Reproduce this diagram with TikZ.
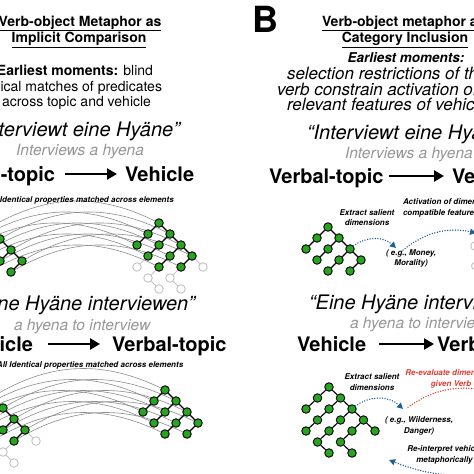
\documentclass[tikz,border=0pt]{standalone}
\usepackage{fontspec}
\setmainfont{TeX Gyre Heros}
\usetikzlibrary{arrows.meta}
\pgfdeclarelayer{bg}
\pgfsetlayers{bg,main}
\definecolor{tgreen}{RGB}{40,165,30}
\definecolor{hgray}{RGB}{195,195,195}
\definecolor{arcgray}{RGB}{140,140,140}
\definecolor{subgray}{RGB}{150,150,150}
\definecolor{dotblue}{RGB}{35,95,145}
\definecolor{dotred}{RGB}{225,60,50}
\newcommand{\fTitle}{\fontsize{14}{16}\selectfont\bfseries}
\newcommand{\fBody}{\fontsize{14}{16}\selectfont}
\newcommand{\fQuote}{\fontsize{20}{24}\selectfont\itshape}
\newcommand{\fSub}{\fontsize{15.5}{18}\selectfont\itshape}
\newcommand{\fBig}{\fontsize{20}{24}\selectfont\bfseries}
\newcommand{\fTiny}{\fontsize{8}{10.5}\selectfont\bfseries\itshape}
\newcommand{\fItal}{\fontsize{17}{16}\selectfont\itshape}
\newcommand{\fEarly}{\fontsize{13.5}{16}\selectfont\bfseries\itshape}
\tikzset{
  gnode/.style={circle,draw=black,line width=0.9pt,fill=tgreen,minimum size=8.5pt,inner sep=0pt},
  hnode/.style={circle,draw=hgray,line width=0.9pt,fill=white,minimum size=8.5pt,inner sep=0pt},
  tedge/.style={line width=1.1pt,black},
  hedge/.style={line width=1pt,hgray},
  arcl/.style={line width=0.6pt,arcgray},
  txt/.style={inner sep=0pt,outer sep=0pt},
  bigarr/.style={line width=2.4pt,-{Triangle[length=10pt,width=11pt]}},
  bluedot/.style={dotblue,line width=1.5pt,line cap=round,dash pattern=on 0pt off 2.6pt,-{Triangle[length=6pt,width=6pt]}},
  reddot/.style={dotred,line width=1.5pt,line cap=round,dash pattern=on 0pt off 2.6pt},
}
\newcommand{\greentree}[5]{%
  \foreach \ta/\tb in {0/0,1/0,2/0,0/1,1/1,0/2,2/1,1/2,0/3,2/2,1/3}
    \node[gnode] (#1-\ta-\tb) at ({#2+#4*(\tb-\ta)},{#3+#5*(\ta+\tb)}) {};
  \foreach \pa/\pb in {0-0/1-0,1-0/2-0,0-0/0-1,0-1/1-1,1-1/2-1,0-1/0-2,0-2/1-2,1-2/2-2,0-2/0-3,0-3/1-3}
    \draw[tedge] (#1-\pa) -- (#1-\pb);
}
\newcommand{\extratree}[7]{%
  \foreach \ta/\tb in {3/1,0/4,3/2,2/3,3/3,2/4}
    \node[#6] (#1-\ta-\tb) at ({#2+#4*(\tb-\ta)},{#3+#5*(\ta+\tb)}) {};
  \foreach \pa/\pb in {2-1/3-1,0-3/0-4,2-2/3-2,1-3/2-3,3-2/3-3,2-3/2-4}
    \draw[#7] (#1-\pa) -- (#1-\pb);
}
\begin{document}
\begin{tikzpicture}[x=1pt,y=-1pt]
\useasboundingbox (0,0) rectangle (474,474);
\begin{pgfonlayer}{bg}
\fill[white] (0,0) rectangle (474,474);
\end{pgfonlayer}

% ---------- Panel A (left) ----------
\node[txt,anchor=base,font=\fTitle] (a1) at (80,26) {\underline{Verb-object Metaphor as}};
\node[txt,anchor=base,font=\fTitle] (a2) at (79,42.5) {\underline{Implicit Comparison}};
\node[txt,anchor=base east,font=\fBody] (a3) at (153,75) {\textbf{Earliest moments:} blind};
\node[txt,anchor=base east,font=\fBody] (a4) at (162,91) {identical matches of predicates};
\node[txt,anchor=base east,font=\fBody] (a5) at (151,106.5) {across topic and vehicle};

\node[txt,anchor=base east,font=\fQuote] (a6) at (180,136) {“Interviewt eine Hyäne”};
\node[txt,anchor=base,font=\fSub,text=subgray] (a7) at (80,155.5) {Interviews a hyena};
\node[txt,anchor=base east,font=\fBig] (a8) at (55,181) {Verbal-topic};
\node[txt,anchor=base west,font=\fBig] (a9) at (125,181) {Vehicle};
\draw[bigarr] ([shift={(10,-7)}]a8.base east) -- ([shift={(-8,-7)}]a9.base west);
\node[txt,anchor=base west,font=\fTiny] (a10) at (-12.5,202.5) {All Identical properties matched across elements};

\greentree{L1}{-11}{228}{11}{11}
\greentree{R1}{159}{223}{11}{11}
\extratree{R1}{159}{223}{11}{11}{hnode}{hedge}
\begin{pgfonlayer}{bg}
\foreach \ta/\tb in {0/0,1/0,2/0,0/1,1/1,0/2,2/1,1/2,0/3,2/2,1/3}
  \draw[arcl] (L1-\ta-\tb) to[bend left=28] (R1-\ta-\tb);
\end{pgfonlayer}

\node[txt,anchor=base east,font=\fQuote] (b1) at (195,310) {“Eine Hyäne interviewen”};
\node[txt,anchor=base west,font=\fSub,text=subgray] (b2) at (14,330.5) {a hyena to interview};
\node[txt,anchor=base east,font=\fBig] (b3) at (33,351) {Vehicle};
\node[txt,anchor=base west,font=\fBig] (b4) at (112,351) {Verbal-topic};
\draw[bigarr] ([shift={(15,-7)}]b3.base east) -- ([shift={(-12,-7)}]b4.base west);
\node[txt,anchor=base west,font=\fTiny] (b5) at (-3,367) {All Identical properties matched across elements};

\greentree{L2}{-8}{397}{11}{11}
\extratree{L2}{-8}{397}{11}{11}{hnode}{hedge}
\greentree{R2}{165}{390}{11}{11}
\begin{pgfonlayer}{bg}
\foreach \ta/\tb in {0/0,1/0,2/0,0/1,1/1,0/2,2/1,1/2,0/3,2/2,1/3}
  \draw[arcl] (L2-\ta-\tb) to[bend left=28] (R2-\ta-\tb);
\end{pgfonlayer}

% ---------- Panel B (right) ----------
\node[txt,font=\fontsize{36}{40}\selectfont\bfseries] (B) at (265,19.5) {B};
\node[txt,anchor=base west,font=\fTitle] (c1) at (322,26) {\underline{Verb-object metaphor as}};
\node[txt,anchor=base,font=\fTitle] (c2) at (405,42.5) {\underline{Category Inclusion}};
\node[txt,anchor=base,font=\fEarly] (c3) at (406,62) {Earliest moments:};
\node[txt,anchor=base west,font=\fItal] (c4) at (287,79.5) {selection restrictions of the};
\node[txt,anchor=base west,font=\fItal] (c5) at (277,95) {verb constrain activation of};
\node[txt,anchor=base west,font=\fItal] (c6) at (287,110.5) {relevant features of vehicle};

\node[txt,anchor=base west,font=\fQuote] (c7) at (307,139) {“Interviewt eine Hyäne”};
\node[txt,anchor=base west,font=\fSub,text=subgray] (c8) at (345,158.5) {Interviews a hyena};
\node[txt,anchor=base west,font=\fBig] (c9) at (269,183) {Verbal-topic};
\node[txt,anchor=base west,font=\fBig] (c10) at (452,183) {Vehicle};
\draw[bigarr] ([shift={(6,-7)}]c9.base east) -- ([shift={(-8,-7)}]c10.base west);

\node[txt,align=center,font=\fTiny] (c11) at (367,217.5) {Extract salient\\dimensions};
\node[txt,anchor=west,align=left,font=\fTiny] (c12) at (403,208) {Activation of dimension-\\compatible features};
\node[txt,align=center,font=\fTiny] (c13) at (411,258.5) {( e.g., Money,\\Morality)};

\greentree{T3}{328}{227}{11}{11}
\node[hnode] (g1) at (475,246) {};
\node[hnode,minimum size=7pt] (g2) at (475,266) {};
\coordinate (u1) at (396,248);
\coordinate (u2) at (403,250);
\coordinate (u3) at (476,233);
\draw[bluedot] (T3-0-2) to[bend left=40] (u1);
\draw[bluedot] (u2) to[bend left=25] (u3);

\node[txt,anchor=base west,font=\fQuote] (d1) at (309,309.5) {“Eine Hyäne interviewen”};
\node[txt,anchor=base west,font=\fSub,text=subgray] (d2) at (350,328.5) {a hyena to interview};
\node[txt,anchor=base west,font=\fBig] (d3) at (297,351) {Vehicle};
\node[txt,anchor=base west,font=\fBig] (d4) at (437,351) {Verbal-topic};
\draw[bigarr] ([shift={(13,-7)}]d3.base east) -- ([shift={(-3,-7)}]d4.base west);

\node[txt,align=center,font=\fTiny] (d5) at (372,382) {Extract salient\\dimensions};
\node[txt,align=center,font=\fTiny,text=dotred] (d6) at (451,379) {Re-evaluate dimensions\\given Verb};
\node[txt,align=center,font=\fTiny] (d7) at (419,426) {( e.g., Wilderness,\\Danger)};
\node[txt,align=center,font=\fTiny] (d8) at (444.5,455) {Re-interpret vehicle\\metaphorically};

\greentree{T4}{329}{387}{11.5}{11}
\extratree{T4}{329}{387}{11.5}{11}{gnode}{tedge}
\coordinate (v1) at (403,409);
\coordinate (v2) at (408,407);
\coordinate (v3) at (480,389);
\coordinate (v4) at (480,475);
\coordinate (v5) at (389,460);
\draw[bluedot] (T4-0-2) to[bend left=40] (v1);
\draw[reddot] (v2) to[bend left=20] (v3);
\draw[bluedot] (v4) to[bend left=12] (v5);
\end{tikzpicture}
\end{document}
